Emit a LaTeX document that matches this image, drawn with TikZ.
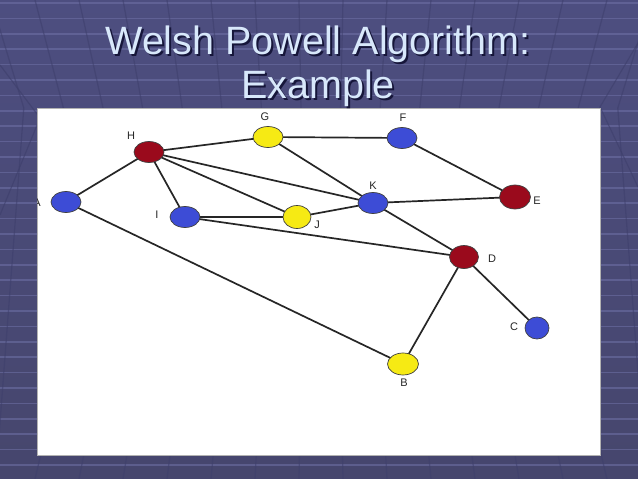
\documentclass[tikz,border=0pt]{standalone}
\usepackage{fontspec}
\setmainfont{Liberation Sans}
\usetikzlibrary{shapes.geometric}
\pgfdeclarelayer{bg}
\pgfdeclarelayer{edges}
\pgfsetlayers{bg,edges,main}
\definecolor{bgtop}{HTML}{4D4E80}
\definecolor{bgmid}{HTML}{5C5D95}
\definecolor{bgbot}{HTML}{46466D}
\definecolor{stripe}{HTML}{7072A8}
\definecolor{persp}{HTML}{3E3F6C}
\definecolor{titlefg}{HTML}{D8E8FB}
\definecolor{titlesh}{HTML}{16163A}
\definecolor{nred}{HTML}{9A0A1C}
\definecolor{nblue}{HTML}{3D4CD6}
\definecolor{nyellow}{HTML}{F6EA14}
\newcommand\shadowedline[1]{\leavevmode\rlap{\kern2pt\raisebox{-2pt}{\textcolor{titlesh}{#1}}}\textcolor{titlefg}{#1}}
\tikzset{
  vtx/.style={ellipse, inner sep=0pt, minimum width=30pt, minimum height=21pt, draw=black!75, line width=0.7pt},
  redv/.style={vtx, fill=nred},
  bluev/.style={vtx, fill=nblue},
  yelv/.style={vtx, fill=nyellow},
  lbl/.style={font=\fontsize{11}{11}\selectfont, text=black!85, inner sep=0pt},
  edge/.style={draw=black!85, line width=1.7pt},
  titletext/.style={font=\fontsize{39.5}{44}\selectfont, align=center, inner sep=0pt}
}
\begin{document}
\begin{tikzpicture}[x=1pt,y=-1pt]
\useasboundingbox (0,0) rectangle (638,479);
\begin{pgfonlayer}{bg}
% background
\shade[top color=bgtop, middle color=bgmid, bottom color=bgbot] (0,0) rectangle (638,479);
\foreach \k in {0,...,31} {
  \draw[stripe, line width=1.6pt, opacity=0.55] (0,{3+15.4*\k}) -- (638,{3+15.4*\k});
}
\foreach \xt in {-9,35,79,123,167,211,255,299,343,387,431,475,519,563,607,651} {
  \draw[persp, line width=1.3pt, opacity=0.55] (\xt,0) -- ({319+(\xt-319)*0.9},108);
  \draw[persp, line width=1.3pt, opacity=0.55] ({319+(\xt-319)*0.98},455) -- (\xt,479);
}
\foreach \xt in {-9,35,607,651} {
  \draw[persp, line width=1.3pt, opacity=0.55] ({319+(\xt-319)*0.9},108) -- ({319+(\xt-319)*0.98},455);
}
\draw[persp, line width=1.2pt, opacity=0.6] (0,65) -- (40,118) -- (0,215);
\draw[persp, line width=1.2pt, opacity=0.6] (638,43) -- (600,107) -- (638,187);
% panel
\fill[white] (37,108) rectangle (600,455);
\draw[black!30, line width=0.5pt] (37,108) rectangle (600,455);
\end{pgfonlayer}
% title
\node[titletext] (title) at (318,67.5) {\shadowedline{Welsh Powell Algorithm:}\\\shadowedline{Example}};
% vertices
\node[redv] (H) at (149,152) {};
\node[yelv] (G) at (268,137) {};
\node[bluev] (F) at (402,138) {};
\node[bluev] (A) at (66,202) {};
\node[bluev] (I) at (185,217) {};
\node[yelv, minimum width=28pt, minimum height=23pt] (J) at (297,217) {};
\node[bluev] (K) at (373,203) {};
\node[redv, minimum width=31pt, minimum height=24pt] (E) at (515,197) {};
\node[redv, minimum width=29pt, minimum height=23pt] (D) at (464,257) {};
\node[bluev, minimum width=24pt, minimum height=22pt] (C) at (537,328) {};
\node[yelv, minimum width=31pt, minimum height=22pt] (B) at (403,364) {};
% edges
\begin{pgfonlayer}{edges}
\path[edge] (H.center) -- (A.center);
\path[edge] (H.center) -- (G.center);
\path[edge] (H.center) -- (K.center);
\path[edge] (H.center) -- (J.center);
\path[edge] (H.center) -- (I.center);
\path[edge] (G.center) -- (F.center);
\path[edge] (G.center) -- (K.center);
\path[edge] (F.center) -- (E.center);
\path[edge] (K.center) -- (E.center);
\path[edge] (K.center) -- (J.center);
\path[edge] (K.center) -- (D.center);
\path[edge] (I.center) -- (J.center);
\path[edge] (I.center) -- (D.center);
\path[edge] (A.center) -- (B.center);
\path[edge] (D.center) -- (B.center);
\path[edge] (D.center) -- (C.center);
\end{pgfonlayer}
% labels
\node[lbl] (lH) at (131,136) {H};
\node[lbl] (lG) at (265,117) {G};
\node[lbl] (lF) at (403,118) {F};
\begin{scope}
\clip (37,108) rectangle (600,455);
\node[lbl] (lA) at (37,203) {A};
\end{scope}
\node[lbl] (lI) at (157,215) {I};
\node[lbl] (lJ) at (317,225) {J};
\node[lbl] (lK) at (373,186) {K};
\node[lbl] (lE) at (537,201) {E};
\node[lbl] (lD) at (492,259) {D};
\node[lbl] (lC) at (514,327) {C};
\node[lbl] (lB) at (404,383) {B};
\end{tikzpicture}
\end{document}
